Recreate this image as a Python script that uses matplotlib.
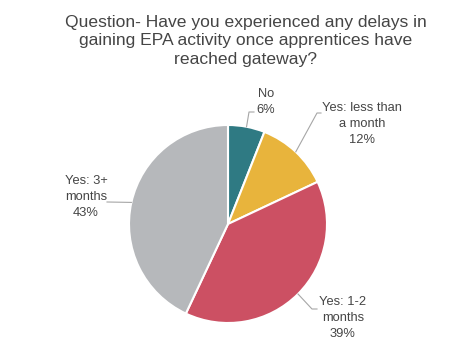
import matplotlib
matplotlib.use("Agg")
import matplotlib.pyplot as plt
import numpy as np
from matplotlib.lines import Line2D

categories = ["No", "Yes: less than\na month", "Yes: 1-2\nmonths", "Yes: 3+\nmonths"]
values = [6, 12, 39, 43]
colors = ["#2F7A83", "#E8B43C", "#CC5063", "#B6B8BB"]

W, H = 474, 362
fig = plt.figure(figsize=(W / 100, H / 100), dpi=100)
fig.patch.set_facecolor("white")
plt.rcParams["font.family"] = ["Liberation Sans", "DejaVu Sans"]
text_color = "#454545"

def fx(x):
    return x / W

def fy(y):
    return 1 - y / H

cx, cy, r = 228, 224, 99
ax = fig.add_axes([fx(cx - r), fy(cy + r), 2 * r / W, 2 * r / H])
wedges, _ = ax.pie(values, colors=colors, startangle=90, counterclock=False,
                   radius=1, wedgeprops=dict(edgecolor="white", linewidth=1.5))
ax.set_xlim(-1, 1)
ax.set_ylim(-1, 1)
ax.set_aspect("auto")
ax.axis("off")

fig.text(fx(246), fy(41), "Question- Have you experienced any delays in\ngaining EPA activity once apprentices have\nreached gateway?",
         ha="center", va="center", fontsize=12.6, color=text_color, linespacing=1.3)

# labels
label_pos = [(266, 102), (362, 124), (343, 318), (86, 197)]
elbows = [[(249, 112), (254, 112)],
          [(317, 113), (321, 113)],
          [(312, 309), (317, 309)],
          [(107, 202)]]

total = sum(values)
cum = 0
for i, v in enumerate(values):
    mid = 90 - (cum + v / 2) / total * 360
    cum += v
    ex = cx + r * np.cos(np.radians(mid))
    ey = cy - r * np.sin(np.radians(mid))
    pts = [(ex, ey)] + elbows[i]
    fig.add_artist(Line2D([fx(p[0]) for p in pts], [fy(p[1]) for p in pts],
                          color="#A6A6A6", linewidth=0.8))
    pct = round(v / total * 100)
    lx, ly = label_pos[i]
    fig.text(fx(lx), fy(ly), f"{categories[i]}\n{pct}%", ha="center", va="center",
             fontsize=9.3, color=text_color, linespacing=1.4)

fig.savefig("out.png", dpi=100)
